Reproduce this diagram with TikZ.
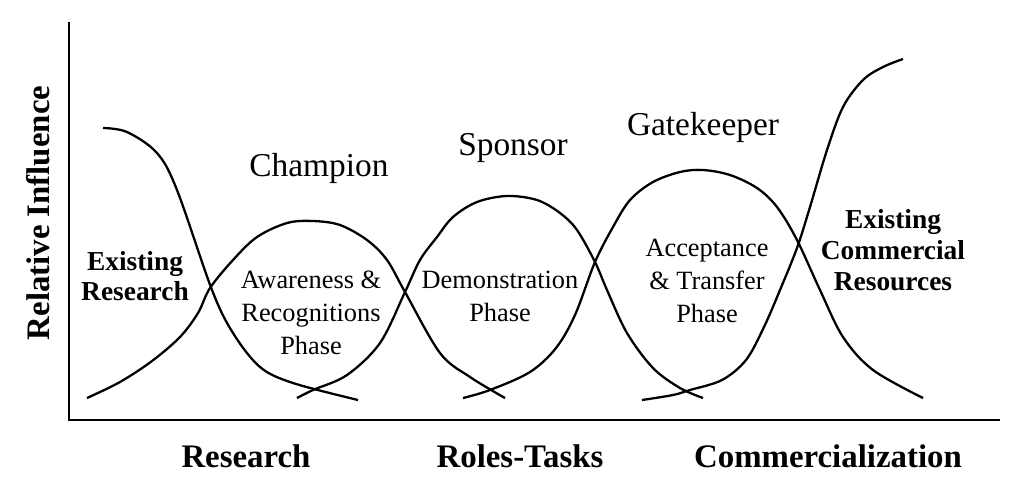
\documentclass[tikz,border=0pt]{standalone}
\usepackage{fontspec}
\setmainfont{Liberation Serif}
\usetikzlibrary{positioning}

\begin{document}
\begin{tikzpicture}[
  x=0.02cm, y=-0.02cm,
  curve/.style={draw=black, line width=1.3pt},
  axis/.style={draw=black, line width=1.1pt},
  rolelbl/.style={font=\fontsize{19}{22}\selectfont, inner sep=0pt},
  phaselbl/.style={font=\fontsize{15}{18.7}\selectfont, align=center, inner sep=0pt},
  poolbox/.style={font=\bfseries\fontsize{15.6}{17.5}\selectfont, align=center, inner sep=0pt},
  axislbl/.style={font=\bfseries\fontsize{18.7}{21}\selectfont, inner sep=0pt}
]
\useasboundingbox (0,0) rectangle (1009,478);

% Axes
\coordinate (origin) at (69,420);
\coordinate (ytop) at (69,22);
\coordinate (xend) at (1000,420);
\draw[axis] (ytop) -- (origin) -- (xend);

% Existing research (falling)
\draw[curve] plot[smooth, tension=0.55] coordinates {(103,128) (127,132) (157,153) (177,190) (212,290) (233,333) (260,367) (293,383) (358,400)};

% Champion bell
\draw[curve] plot[smooth, tension=0.55] coordinates {(87,398) (120,382) (152,361) (180,337) (198,313) (210,288) (233,260) (257,237) (287,223) (313,221) (340,225) (367,240) (387,260) (405,292) (440,353) (470,377) (505,398)};

% Sponsor bell
\draw[curve] plot[smooth, tension=0.55] coordinates {(297,398) (313,390) (347,375) (380,343) (405,292) (420,260) (437,237) (453,217) (477,202) (507,196) (537,200) (560,213) (577,230) (595,262) (607,290) (627,333) (653,368) (680,388) (703,398)};

% Gatekeeper bell
\draw[curve] plot[smooth, tension=0.55] coordinates {(463,398) (490,390) (530,372) (556,348) (575,315) (595,262) (613,227) (630,200) (653,182) (680,172) (703,170) (730,175) (757,188) (777,207) (797,240) (820,290) (843,337) (873,370) (923,398)};

% Existing commercial resources (rising)
\draw[curve] plot[smooth, tension=0.55] coordinates {(642,400) (673,395) (690,390) (722,380) (746,360) (764,327) (780,290) (797,248) (810,207) (827,150) (843,107) (863,80) (883,67) (903,59)};

% Roles
\node[rolelbl] (champion) at (319,168) {Champion};
\node[rolelbl] (sponsor) at (513,148) {Sponsor};
\node[rolelbl] (gatekeeper) at (703,127) {Gatekeeper};

% Phases
\node[phaselbl] (awareness) at (311,313) {Awareness \&\\Recognitions\\Phase};
\node[phaselbl] (demo) at (500,296) {Demonstration\\Phase};
\node[phaselbl] (accept) at (707,281) {Acceptance\\\& Transfer\\Phase};

% Pools
\node[poolbox] (exres) at (135,276) {Existing\\Research};
\node[poolbox] (excom) at (893,250) {Existing\\Commercial\\Resources};

% Axis labels
\node[axislbl, rotate=90] (ylabel) at (38,213) {Relative Influence};
\node[axislbl] (research) at (246,456) {Research};
\node[axislbl] (roles) at (520,456) {Roles-Tasks};
\node[axislbl] (commerce) at (828,456) {Commercialization};

\end{tikzpicture}
\end{document}
